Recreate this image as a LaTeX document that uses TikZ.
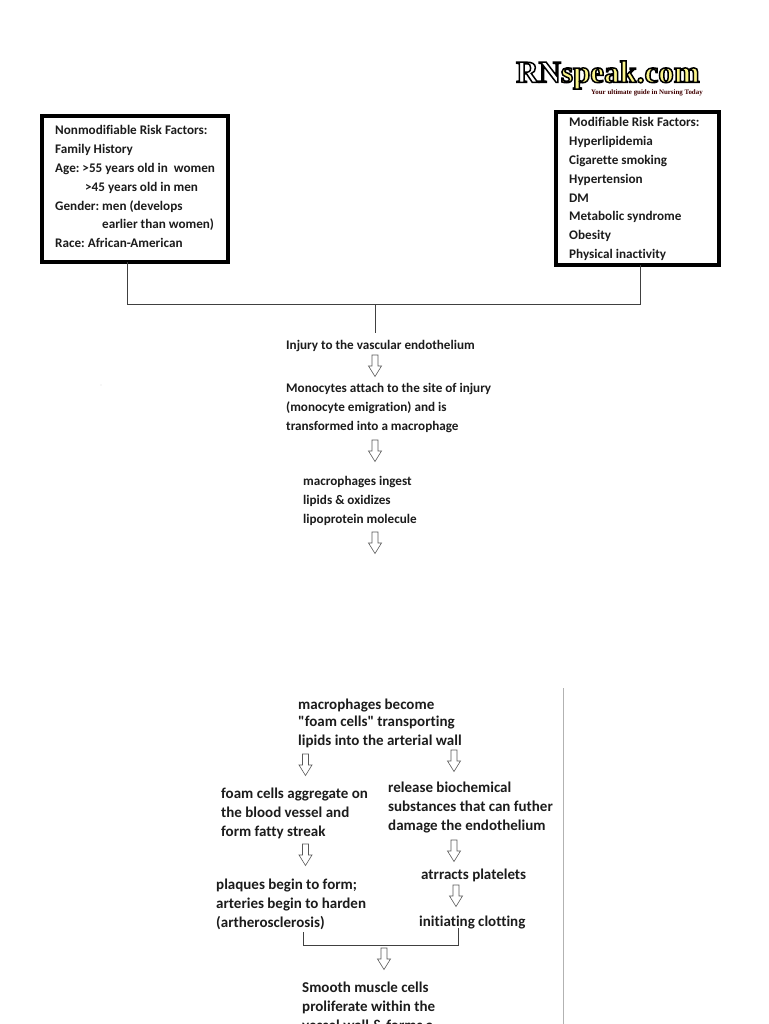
\documentclass[tikz,border=0pt]{standalone}
\usepackage{fontspec}
\newfontfamily\bodyfont{Carlito}[Ligatures=NoCommon]
\newfontfamily\logofont{Liberation Serif}
\definecolor{ink}{HTML}{1C1C1C}
\definecolor{logoyellow}{HTML}{FBF58A}
\tikzset{
  x=1pt,y=-1pt,
  txt/.style={anchor=north west,inner sep=0pt,align=left,text=ink,font=\bodyfont\frenchspacing\fontsize{13.15}{18.9}\selectfont\bfseries},
  txtbig/.style={txt,font=\bodyfont\frenchspacing\fontsize{15}{18.9}\selectfont\bfseries},
  riskbox/.style={draw=black,line width=3.2pt,fill=white,anchor=north west,inner sep=0pt,outer sep=0pt},
  conn/.style={draw=black!75,line width=.8pt},
  hollow/.pic={\draw[black!65,line width=.6pt,fill=white,line join=miter]
    (-3,-11) -- (3,-11) -- (3,0) -- (6.5,0) -- (0,10.5) -- (-6.5,0) -- (-3,0) -- cycle;}
}
\newcommand{\outlined}[2]{{\color{#1}\special{pdf:code 0 0 0 RG 1.5 w 2 Tr}#2\special{pdf:code 0 Tr}}}
\begin{document}
\begin{tikzpicture}
\useasboundingbox (0,0) rectangle (768,1024);
\fill[white] (0,0) rectangle (768,1024);
% logo
\node[anchor=west,inner sep=0pt] (logo) at (516,75) {\logofont\bfseries\fontsize{31}{31}\selectfont\outlined{white}{RN}\outlined{logoyellow}{speak.com}};
\node[anchor=west,inner sep=0pt,text=black!75!red] (tag) at (591,93) {\logofont\bfseries\fontsize{6.9}{6.9}\selectfont Your ultimate guide in Nursing Today};
% boxes
\node[riskbox,minimum width=186pt,minimum height=146pt] (nonmod) at (42,116) {};
\node[riskbox,minimum width=163pt,minimum height=153pt] (mod) at (556,112) {};
\node[txt] (nonmodtext) at (55,125) {Nonmodifiable Risk Factors:\\Family History\\Age: >55 years old in~~women\\\hspace{30pt}>45 years old in men\\Gender: men (develops\\\hspace{47pt}earlier than women)\\Race: African-American};
\node[txt] (modtext) at (569,117) {Modifiable Risk Factors:\\Hyperlipidemia\\Cigarette smoking\\Hypertension\\DM\\Metabolic syndrome\\Obesity\\Physical inactivity};
% upper flow
\node[txt] (injury) at (286,340) {Injury to the vascular endothelium};
\node[txt] (mono) at (286,383) {Monocytes attach to the site of injury\\(monocyte emigration) and is\\transformed into a macrophage};
\node[txt] (ingest) at (303,476) {macrophages ingest\\lipids \& oxidizes\\lipoprotein molecule};
\coordinate (junction) at (375,304);
\coordinate (leftdrop) at (127,304);
\coordinate (rightdrop) at (640,304);
\coordinate (stemend) at (375,333);
\draw[conn] (nonmod.south -| leftdrop) -- (leftdrop) -- (rightdrop) -- (mod.south -| rightdrop);
\draw[conn] (junction) -- (stemend);
\pic (a1) at (375,366) {hollow};
\pic (a2) at (375,451) {hollow};
\pic (a3) at (375,543) {hollow};
% lower flow
\node[txtbig] (foam) at (298,698.5) {macrophages become\\[-2pt]"foam cells" transporting\\lipids into the arterial wall};
\pic (a4) at (305.5,765) {hollow};
\pic (a5) at (454,761) {hollow};
\node[txtbig] (agg) at (221,788) {foam cells aggregate on\\the blood vessel and\\form fatty streak};
\node[txtbig] (rel) at (388,782) {release biochemical\\substances that can futher\\damage the endothelium};
\pic (a6) at (305.5,855) {hollow};
\pic (a7) at (454,851) {hollow};
\node[txtbig] (plaque) at (216,879) {plaques begin to form;\\arteries begin to harden\\(artherosclerosis)};
\node[txtbig] (plate) at (421,869) {atrracts platelets};
\pic (a8) at (456,896) {hollow};
\node[txtbig] (clot) at (419,916) {initiating clotting};
\coordinate (bl) at (303,932);
\coordinate (bla) at (303,945);
\coordinate (br) at (458,928);
\coordinate (bra) at (458,945);
\draw[conn] (bl) -- (bla) -- (bra) -- (br);
\pic (a9) at (384,959) {hollow};
\node[txtbig] (smooth) at (302,982) {Smooth muscle cells\\proliferate within the\\vessel wall \& forms a};
% page edge
\coordinate (edgetop) at (563,688);
\coordinate (edgebot) at (563,1024);
\draw[black!30,line width=.8pt] (edgetop) -- (edgebot);
\fill[black!35] (101,385) circle (.4pt);
\end{tikzpicture}
\end{document}
